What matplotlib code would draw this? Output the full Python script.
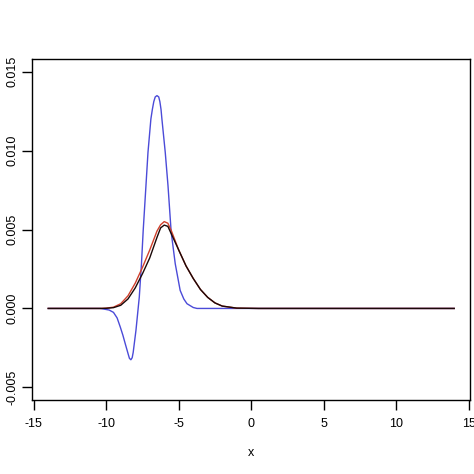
import numpy as np
import matplotlib
import matplotlib.pyplot as plt

matplotlib.use('Agg')
plt.rcParams['font.family'] = ['Liberation Sans', 'DejaVu Sans']

# blue curve
blue_x = [-14.0, -10.4, -9.8, -9.5, -9.25, -9.03, -8.85, -8.69, -8.48, -8.40, -8.30,
          -8.21, -8.14, -7.95, -7.72, -7.57, -7.45, -7.26, -7.12, -6.92, -6.82, -6.72,
          -6.62, -6.50, -6.38, -6.30, -6.22, -6.16, -5.93, -5.74, -5.52, -5.24, -4.90,
          -4.65, -4.43, -4.0, -3.74, 14.0]
blue_y = [0.0, 0.0, -0.0001, -0.00025, -0.0006, -0.00118, -0.0017, -0.00223, -0.00291, -0.00316, -0.00325,
          -0.00312, -0.00278, -0.00139, 0.00072, 0.00283, 0.00494, 0.00778, 0.00989, 0.0120, 0.0126, 0.0131,
          0.01340, 0.01348, 0.01340, 0.0131, 0.0126, 0.0120, 0.00989, 0.00778, 0.00483, 0.00283, 0.00114,
          0.0006, 0.0003, 0.00006, 0.0, 0.0]

# red curve
red_x = [-14.0, -10.4, -10.0, -9.5, -9.0, -8.5, -8.0, -7.5, -7.0, -6.5, -6.25, -6.0,
         -5.75, -5.5, -5.0, -4.5, -4.0, -3.5, -3.0, -2.5, -2.0, -1.0, 0.5, 14.0]
red_y = [0.0, 0.0, 0.00002, 0.00008, 0.0003, 0.0008, 0.0016, 0.0026, 0.0037, 0.0049, 0.0053, 0.0055,
         0.0054, 0.0049, 0.0037, 0.0027, 0.0019, 0.0012, 0.0007, 0.00035, 0.00015, 0.00002, 0.0, 0.0]

# black curve
black_x = [-14.0, -10.4, -10.0, -9.5, -9.0, -8.5, -8.0, -7.5, -7.0, -6.5, -6.25, -6.0,
           -5.75, -5.5, -5.0, -4.5, -4.0, -3.5, -3.0, -2.5, -2.0, -1.0, 0.5, 14.0]
black_y = [0.0, 0.0, 0.00001, 0.00005, 0.0002, 0.0006, 0.0013, 0.0022, 0.0032, 0.0045, 0.0051, 0.00528,
           0.0052, 0.0047, 0.0037, 0.0027, 0.0019, 0.0012, 0.0007, 0.00035, 0.00015, 0.00002, 0.0, 0.0]

x_ticks = [-15, -10, -5, 0, 5, 10, 15]
y_ticks = [-0.005, 0.0, 0.005, 0.010, 0.015]
y_labels = ['-0.005', '0.000', '0.005', '0.010', '0.015']

fig = plt.figure(figsize=(4.74, 4.74), dpi=100)
ax = fig.add_axes([0.0675, 0.1561, 0.925, 0.7194])

ax.plot(blue_x, blue_y, color='#4b4bd8', lw=1.0)
ax.plot(red_x, red_y, color='#d0402c', lw=1.0)
ax.plot(black_x, black_y, color='#1a0808', lw=1.0)

ax.set_xlim(-15.12, 15.12)
ax.set_ylim(-0.0058, 0.0158)
ax.set_xticks(x_ticks)
ax.set_xticklabels([str(t) for t in x_ticks])
ax.set_yticks(y_ticks)
ax.set_yticklabels(y_labels, rotation=90, va='center')
ax.tick_params(direction='out', length=7, width=1, labelsize=9)
ax.tick_params(axis='x', pad=6)
ax.tick_params(axis='y', pad=3)
ax.set_xlabel('x', fontsize=9, labelpad=12)
for s in ax.spines.values():
    s.set_linewidth(1)

fig.savefig('out.png', dpi=100)
